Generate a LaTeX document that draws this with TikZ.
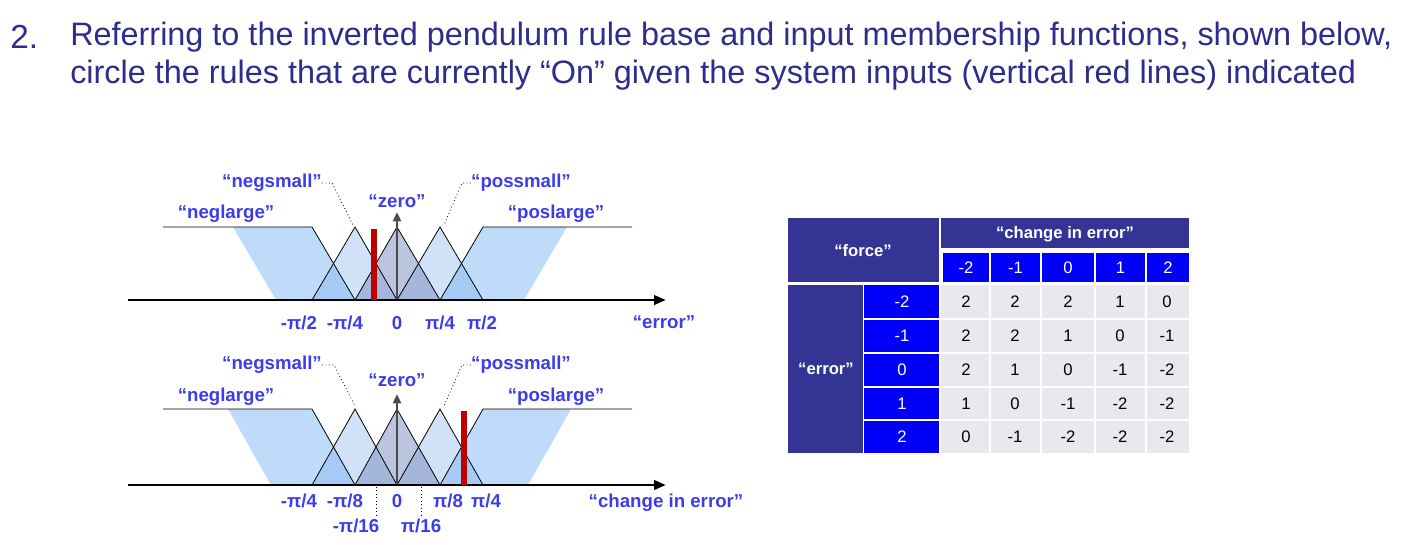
\documentclass[tikz,border=0pt]{standalone}
\usepackage{fontspec}
\setmainfont{Liberation Sans}
\usetikzlibrary{arrows.meta}
\definecolor{lbl}{RGB}{60,60,235}
\definecolor{ttl}{RGB}{45,45,140}
\definecolor{hdr}{RGB}{52,52,148}
\definecolor{bblue}{RGB}{0,0,250}
\definecolor{cellg}{RGB}{232,232,238}
\definecolor{shadec}{RGB}{190,220,250}
\definecolor{tric}{RGB}{120,170,235}
\definecolor{zeroc}{RGB}{120,140,190}
\definecolor{redl}{RGB}{190,0,0}
\tikzset{
  lab/.style={font=\bfseries\fontsize{14}{16}\selectfont, text=lbl, inner sep=0pt},
  mf/.style={draw=black, line width=0.6pt},
  lead/.style={draw=black, dotted, line width=0.6pt},
  axis/.style={line width=2.2pt, -{Triangle[length=9pt,width=7pt]}},
  cellt/.style={font=\fontsize{12.5}{14}\selectfont, inner sep=0pt},
  hdrt/.style={text=white, font=\bfseries\fontsize{12.5}{14}\selectfont, inner sep=0pt},
}
\begin{document}
\begin{tikzpicture}[x=0.75pt,y=-0.75pt]
\useasboundingbox (0,0) rectangle (1428,544);
% title
\node[anchor=west, text=ttl, font=\fontsize{25}{28}\selectfont, inner sep=0pt] (num) at (10,37) {2.};
\node[anchor=west, text=ttl, font=\fontsize{24.3}{28}\selectfont, inner sep=0pt] (t1) at (70,37) {Referring to the inverted pendulum rule base and input membership functions, shown below,};
\node[anchor=west, text=ttl, font=\fontsize{24.3}{28}\selectfont, inner sep=0pt] (t2) at (70,75) {circle the rules that are currently “On” given the system inputs (vertical red lines) indicated};

% ---------- plots ----------
\foreach \yb/\yt/\sl/\sr in {300/227/233/567, 485/409/228/571}{
  \fill[shadec] (\sl,\yt) -- (312,\yt) -- (355,\yb) -- (\sl+43,\yb) -- cycle;
  \fill[shadec] (\sr,\yt) -- (483,\yt) -- (440,\yb) -- (\sr-43,\yb) -- cycle;
  \fill[tric, opacity=0.35] (312,\yb) -- (355,\yt) -- (397,\yb) -- cycle;
  \fill[tric, opacity=0.35] (397,\yb) -- (440,\yt) -- (483,\yb) -- cycle;
  \fill[zeroc, opacity=0.5] (355,\yb) -- (397,\yt) -- (440,\yb) -- cycle;
  \draw[mf] (163,\yt) -- (312,\yt) -- (355,\yb);
  \draw[mf] (312,\yb) -- (355,\yt) -- (397,\yb);
  \draw[mf] (355,\yb) -- (397,\yt) -- (440,\yb);
  \draw[mf] (397,\yb) -- (440,\yt) -- (483,\yb);
  \draw[mf] (440,\yb) -- (483,\yt) -- (632,\yt);
}
% zero arrows
\coordinate (z1a) at (397,300); \coordinate (z1b) at (397,212);
\coordinate (z2a) at (397,485); \coordinate (z2b) at (397,394);
\draw[line width=2pt, black!70, -{Triangle[length=7pt,width=6pt]}] (z1a) -- (z1b);
\draw[line width=2pt, black!70, -{Triangle[length=7pt,width=6pt]}] (z2a) -- (z2b);
% axes
\coordinate (a1s) at (128,300); \coordinate (a1e) at (666,300);
\coordinate (a2s) at (128,485); \coordinate (a2e) at (666,485);
\draw[axis] (a1s) -- (a1e);
\draw[axis] (a2s) -- (a2e);
% red inputs
\coordinate (r1a) at (374,229); \coordinate (r1b) at (374,300);
\coordinate (r2a) at (464,411); \coordinate (r2b) at (464,485);
\draw[redl, line width=5pt] (r1a) -- (r1b);
\draw[redl, line width=5pt] (r2a) -- (r2b);

% labels top
\node[lab] (ns1) at (272,183) {“negsmall”};
\node[lab] (zr1) at (397,201) {“zero”};
\node[lab] (ps1) at (521,183) {“possmall”};
\node[lab] (nl1) at (226,214) {“neglarge”};
\node[lab] (pl1) at (556,214) {“poslarge”};
\coordinate (p1) at (353,225); \coordinate (p2) at (444,225);
\draw[lead] (ns1.east) -- ++(10,0) -- (p1);
\draw[lead] (ps1.west) -- ++(-9,0) -- (p2);
\node[lab] (e1) at (299,323) {-π/2};
\node[lab] (e2) at (345,323) {-π/4};
\node[lab] (e3) at (397,323) {0};
\node[lab] (e4) at (440,323) {π/4};
\node[lab] (e5) at (482,323) {π/2};
\node[lab] (ex) at (664,322) {“error”};
% labels bottom
\node[lab] (ns2) at (272,365) {“negsmall”};
\node[lab] (zr2) at (397,380) {“zero”};
\node[lab] (ps2) at (521,365) {“possmall”};
\node[lab] (nl2) at (226,397) {“neglarge”};
\node[lab] (pl2) at (556,397) {“poslarge”};
\coordinate (q1) at (355,406); \coordinate (q2) at (444,406);
\draw[lead] (ns2.east) -- ++(12,0) -- (q1);
\draw[lead] (ps2.west) -- ++(-9,0) -- (q2);
\node[lab] (c1) at (299,501) {-π/4};
\node[lab] (c2) at (345,501) {-π/8};
\node[lab] (c3) at (397,501) {0};
\node[lab] (c4) at (448,501) {π/8};
\node[lab] (c5) at (486,501) {π/4};
\node[lab] (c6) at (356,526) {-π/16};
\node[lab] (c7) at (421,526) {π/16};
\node[lab] (cx) at (666,503) {“change in error”};
\coordinate (d1a) at (376,487); \coordinate (d1b) at (376,515);
\coordinate (d2a) at (421,487); \coordinate (d2b) at (421,515);
\draw[lead] (d1a) -- (d1b);
\draw[lead] (d2a) -- (d2b);

% ---------- table ----------
\fill[hdr] (788,218) rectangle (939,282);
\node[hdrt] (force) at (863,251) {“force”};
\fill[hdr] (941,218) rectangle (1189,248);
\node[hdrt] (cie) at (1065,234) {“change in error”};
\fill[hdr] (788,285) rectangle (863,453);
\node[hdrt] (err) at (826,369) {“error”};
\foreach \xa/\xb/\v [count=\i] in {943/989/-2, 991/1040/-1, 1042/1094/0, 1096/1145/1, 1147/1189/2}{
  \fill[bblue] (\xa,253) rectangle (\xb,282);
  \node[cellt, text=white] (ch\i) at ({(\xa+\xb)/2},268) {\v};
}
\foreach \ya/\yb/\v [count=\j] in {285/318/-2, 320/352/-1, 354/386/0, 388/419/1, 421/453/2}{
  \fill[bblue] (864,\ya) rectangle (939,\yb);
  \node[cellt, text=white] (rh\j) at (902,{(\ya+\yb)/2}) {\v};
}
\foreach \ya/\yb/\row [count=\j] in {285/318/{2,2,2,1,0}, 320/352/{2,2,1,0,-1}, 354/386/{2,1,0,-1,-2}, 388/419/{1,0,-1,-2,-2}, 421/453/{0,-1,-2,-2,-2}}{
  \foreach \xa/\xb [count=\i] in {941/989, 991/1040, 1042/1094, 1096/1145, 1147/1189}{
    \fill[cellg] (\xa,\ya) rectangle (\xb,\yb);
  }
  \foreach \v [count=\i] in \row {
    \pgfmathsetmacro{\cx}{{966,1015,1068,1120,1167}[\i-1]}
    \node[cellt] (d\j\i) at (\cx,{(\ya+\yb)/2}) {\v};
  }
}
\end{tikzpicture}
\end{document}
